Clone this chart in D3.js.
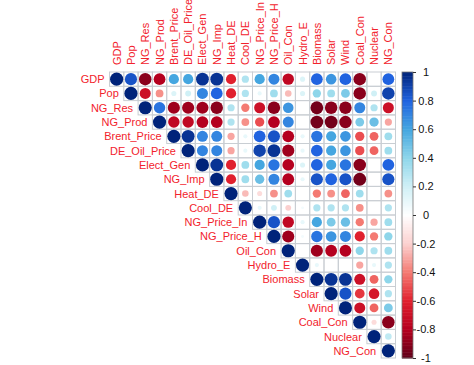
<!DOCTYPE html>
<html><head><meta charset="utf-8">
<script src="https://cdn.jsdelivr.net/npm/d3@7"></script>
<style>body{margin:0;background:#fff}svg{display:block}</style>
</head><body>
<svg id="chart" width="474" height="365"></svg>
<script>
const variables = ["GDP","Pop","NG_Res","NG_Prod","Brent_Price","DE_Oil_Price","Elect_Gen","NG_Imp","Heat_DE","Cool_DE","NG_Price_In","NG_Price_H","Oil_Con","Hydro_E","Biomass","Solar","Wind","Coal_Con","Nuclear","NG_Con"];
// upper triangle, row i holds correlations with columns i..19
const corrRows = [
  [1, 0.85, -0.9, -0.8, 0.6, 0.6, 0.95, 0.95, -0.6, 0.3, 0.6, 0.7, -0.75, 0.15, 0.8, 0.65, 0.8, -0.9, 0.0, 0.8],
  [1, -0.7, -0.35, 0.15, 0.2, 0.7, 0.8, -0.6, 0.3, 0.1, 0.35, -0.25, 0.15, 0.4, 0.35, 0.45, -0.9, 0.2, 0.9],
  [1, 0.75, -0.85, -0.85, -0.85, -0.9, 0.3, -0.4, -0.7, -0.9, 0.65, 0.0, -0.95, -0.9, -0.9, 0.7, 0.3, -0.7],
  [1, -0.75, -0.75, -0.8, -0.8, 0.3, -0.35, -0.5, -0.8, 0.7, 0.0, -0.95, -0.95, -0.9, 0.45, 0.5, -0.3],
  [1, 0.95, 0.7, 0.7, -0.3, 0.1, 0.8, 0.85, -0.8, 0.1, 0.75, 0.6, 0.65, -0.5, -0.45, 0.35],
  [1, 0.7, 0.7, -0.3, 0.1, 0.9, 0.95, -0.85, 0.1, 0.8, 0.6, 0.65, -0.5, -0.45, 0.35],
  [1, 0.95, -0.6, 0.35, 0.6, 0.75, -0.8, 0.15, 0.8, 0.6, 0.75, -0.9, 0.0, 0.8],
  [1, -0.6, 0.35, 0.5, 0.7, -0.8, 0.1, 0.85, 0.8, 0.85, -0.95, 0.0, 0.85],
  [1, -0.25, -0.15, -0.35, 0.35, 0.0, -0.4, -0.35, -0.45, 0.35, 0.0, -0.35],
  [1, 0.1, 0.2, -0.2, 0.05, 0.3, 0.3, 0.3, -0.35, 0.0, 0.3],
  [1, 0.85, -0.75, 0.1, 0.6, 0.45, 0.5, -0.4, -0.3, 0.35],
  [1, -0.85, 0.05, 0.75, 0.65, 0.7, -0.6, -0.4, 0.4],
  [1, 0.0, -0.85, -0.8, -0.8, 0.4, 0.3, 0.35],
  [1, 0.1, 0.0, 0.0, -0.3, 0.1, 0.3],
  [1, 0.95, 0.95, -0.7, -0.45, 0.4],
  [1, 0.85, -0.55, -0.65, 0.3],
  [1, -0.7, -0.45, 0.45],
  [1, -0.15, -0.9],
  [1, 0.25],
  [1]
];
const legendTicks = [1, 0.8, 0.6, 0.4, 0.2, 0, -0.2, -0.4, -0.6, -0.8, -1];
const paletteStops = [-1,-0.8,-0.6,-0.4,-0.2,0,0.2,0.4,0.6,0.8,1];
const paletteColors = ["#5E0018","#B5001F","#E0202E","#F47A72","#FBD0CF","#FFFFFF","#D0F0F6","#8ED6EA","#45A6E0","#2063E0","#00237A"];

const svg = d3.select("#chart");
const n = variables.length;
const gx0 = 109.5, gy0 = 72, cell = 14.3;
const x = d3.scaleBand().domain(variables).range([gx0, gx0 + n*cell]).padding(0);
const y = d3.scaleBand().domain(variables).range([gy0, gy0 + n*cell]).padding(0);
const color = d3.scaleLinear().domain(paletteStops).range(paletteColors);
const rScale = d3.scaleSqrt().domain([0,1]).range([0, cell*0.46]);

const cells = [];
corrRows.forEach((row, i) => row.forEach((v, k) => {
  cells.push({row: variables[i], col: variables[i+k], v});
}));

const font = "'Liberation Sans', Arial, sans-serif";

svg.append("g").selectAll("rect").data(cells).join("rect")
  .attr("x", d => x(d.col)).attr("y", d => y(d.row))
  .attr("width", x.bandwidth()).attr("height", y.bandwidth())
  .attr("fill", "none").attr("stroke", "#C9CED3").attr("stroke-width", 1);

svg.append("g").selectAll("circle").data(cells).join("circle")
  .attr("cx", d => x(d.col) + x.bandwidth()/2)
  .attr("cy", d => y(d.row) + y.bandwidth()/2)
  .attr("r", d => rScale(Math.abs(d.v)))
  .attr("fill", d => color(d.v));

// left labels
svg.append("g").selectAll("text").data(variables).join("text")
  .attr("x", d => x(d) - 5)
  .attr("y", d => y(d) + y.bandwidth()/2)
  .attr("text-anchor", "end").attr("dominant-baseline", "central")
  .attr("font-family", font).attr("font-size", 11).attr("fill", "#F2222C")
  .text(d => d);

// top labels
svg.append("g").selectAll("text").data(variables).join("text")
  .attr("transform", d => `translate(${x(d) + x.bandwidth()/2},${gy0 - 7}) rotate(-90)`)
  .attr("text-anchor", "start").attr("dominant-baseline", "central")
  .attr("font-family", font).attr("font-size", 11).attr("fill", "#F2222C")
  .text(d => d);

// color legend
const lx = 402, lw = 11;
const ly = d3.scaleLinear().domain([-1, 1]).range([gy0 + n*cell, gy0]);
const steps = d3.range(-1, 1, 0.01);
svg.append("g").selectAll("rect").data(steps).join("rect")
  .attr("x", lx).attr("width", lw)
  .attr("y", d => ly(d + 0.01)).attr("height", d => ly(d) - ly(d + 0.01) + 0.5)
  .attr("fill", d => color(d + 0.005));
svg.append("rect").attr("x", lx).attr("y", ly(1)).attr("width", lw)
  .attr("height", ly(-1) - ly(1)).attr("fill", "none").attr("stroke", "#777").attr("stroke-width", 0.8);
const axis = d3.axisRight(ly).tickValues(legendTicks).tickSize(3).tickFormat(d => String(d));
const ag = svg.append("g").attr("transform", `translate(${lx + lw},0)`).call(axis);
ag.select(".domain").remove();
ag.selectAll(".tick line").attr("stroke", "#333");
ag.selectAll(".tick text").attr("x", 13).attr("text-anchor", "middle")
  .attr("font-family", font).attr("font-size", 11).attr("fill", "#111");
</script>
</body></html>
